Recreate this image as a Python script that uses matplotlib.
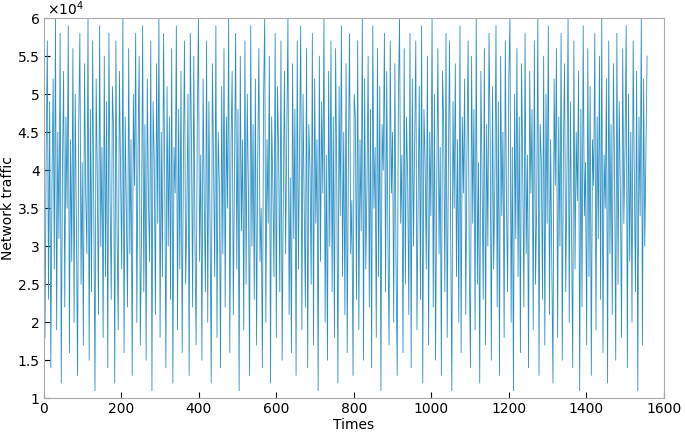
import matplotlib
matplotlib.use("Agg")
import matplotlib.pyplot as plt
import numpy as np

# traffic values (x1000), sampled every 3 time steps (estimated)
traffic_k = [
55,18,42,57,23,49,14,38,52,27,60,19,45,31,58,12,40,53,22,47,
35,59,16,44,28,56,20,50,33,13,46,58,25,41,17,54,37,29,60,15,
48,24,57,34,11,52,39,21,59,30,43,18,55,26,49,14,58,36,23,51,
45,12,57,32,19,53,40,27,60,16,47,35,22,56,29,44,13,50,38,58,
20,42,55,17,31,59,24,46,15,52,36,28,57,11,49,41,21,54,33,60,
18,45,26,58,39,14,51,30,47,23,56,12,43,37,59,19,48,27,53,16,
40,57,25,34,50,13,58,44,22,55,31,17,46,60,28,42,15,52,36,24,
57,20,49,33,12,54,41,26,59,18,45,38,14,51,29,56,22,47,35,60,
16,43,53,21,39,58,27,48,11,55,32,44,19,57,25,50,37,13,59,30,
46,23,52,17,41,56,28,35,14,49,60,20,44,33,55,12,47,38,26,58,
18,51,42,24,57,15,36,53,29,45,60,21,39,16,54,31,48,13,57,27,
43,59,19,50,35,22,56,14,46,40,25,58,17,52,33,44,11,55,28,49,
37,60,20,42,15,53,30,57,24,47,18,56,39,12,51,34,59,26,45,21,
54,16,41,58,29,36,13,50,47,23,57,19,44,32,60,15,52,27,38,55,
22,48,14,59,35,43,18,56,26,51,11,46,40,58,24,53,31,17,57,37,
45,20,54,28,13,49,60,33,42,16,56,25,47,39,21,58,14,52,30,44,
57,19,36,51,23,59,12,48,41,27,55,17,45,34,60,22,50,15,38,56,
29,43,13,53,46,24,58,18,40,57,32,11,49,35,54,26,44,20,59,16,
47,37,52,21,42,57,28,14,55,33,48,19,60,25,41,12,53,39,23,56,
17,46,30,58,44,15,51,27,38,59,22,49,13,55,34,45,18,57,36,24,
52,60,20,43,11,50,31,56,26,47,16,54,40,22,58,29,42,14,53,37,
48,19,57,25,35,60,13,46,41,23,55,17,50,33,59,21,44,28,12,52,
38,56,18,47,30,58,15,43,54,24,39,60,20,49,32,14,57,27,45,36,
53,11,48,22,59,34,41,17,56,26,51,13,44,38,58,19,47,31,55,23,
60,16,42,35,52,12,57,29,46,21,54,40,15,58,25,49,37,18,56,33,
43,59,14,50,28,45,20,57,39,24,53,11,47,34,60,17,52,30,42,55,
]
times = np.arange(len(traffic_k)) * 3
traffic = np.array(traffic_k) * 1000

fig = plt.figure(figsize=(6.85, 4.42), dpi=100)
ax = fig.add_axes([0.064, 0.099, 0.905, 0.86])
ax.plot(times, traffic, color="#2b8fc4", lw=0.6)
ax.set_xlim(0, 1577)
ax.set_ylim(10000, 60000)
ax.set_xticks(range(0, 1601, 200))
ax.set_yticks(np.arange(10000, 60001, 5000))
ax.set_yticklabels(["1", "1.5", "2", "2.5", "3", "3.5", "4", "4.5", "5", "5.5", "6"])
ax.text(0.005, 1.0, r"$\times10^4$", transform=ax.transAxes, fontsize=10, va="bottom")
ax.tick_params(labelsize=10, direction="in", length=4, pad=3)
ax.set_xlabel("Times", fontsize=10, labelpad=1)
ax.set_ylabel("Network traffic", fontsize=10, labelpad=2)
for s in ax.spines.values():
    s.set_color("#aaaaaa")
fig.savefig("out.png", dpi=100)
